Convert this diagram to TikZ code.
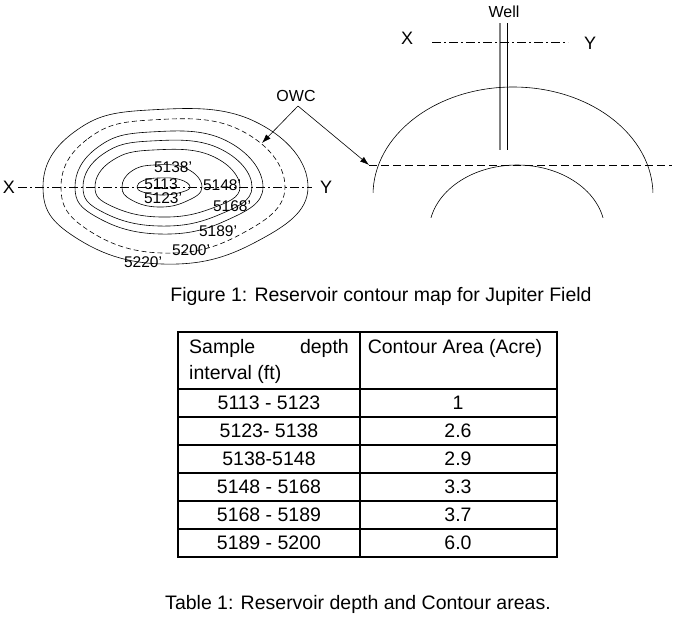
\documentclass[tikz,border=0pt]{standalone}
\usepackage{fontspec}
\setmainfont{Liberation Sans}
\usetikzlibrary{arrows.meta}
\newcommand{\myring}[5]{%
\pgfmathsetmacro{\w}{#2-#1}\pgfmathsetmacro{\a}{187-#3}\pgfmathsetmacro{\b}{#4-187}%
\draw[#5] plot[smooth cycle,tension=0.75] coordinates{(#1,187) (#1+.12*\w,187-.72*\a) (#1+.4*\w,#3) (#1+.8*\w,187-.85*\a) (#2,187) (#1+.8*\w,187+.72*\b) (#1+.45*\w,#4) (#1+.12*\w,187+.65*\b)};}
\begin{document}
\begin{tikzpicture}[x=1pt,y=-1pt,
 lab/.style={font=\fontsize{15.5}{16}\selectfont,inner sep=0pt},
 big/.style={font=\fontsize{18}{19}\selectfont,inner sep=0pt},
 captxt/.style={font=\fontsize{19.5}{21}\selectfont,inner sep=0pt},
 cell/.style={font=\fontsize{19.5}{21}\selectfont,inner sep=0pt},
 dd/.style={dash pattern=on 9pt off 3pt on 2pt off 3pt},
 thin line/.style={line width=0.6pt}]
\useasboundingbox (0,0) rectangle (678,619);
% contours
\myring{137}{190}{178}{195}{thin line}
\myring{122}{202}{165}{207}{thin line}
\myring{95}{240}{150}{217}{thin line}
\myring{83}{252}{141}{226}{thin line}
\myring{75}{263}{132}{234}{thin line}
\myring{61}{285}{120}{253}{thin line,dash pattern=on 5pt off 3pt}
\myring{43}{308}{110}{264}{thin line}
\coordinate (xl) at (18,187); \coordinate (yl) at (312,187);
\draw[thin line,dd] (xl) -- (yl);
\node[big] (X1) at (9,187) {X};
\node[big] (Y1) at (326,187) {Y};
\node[lab] (l38) at (173,167) {5138'};
\node[lab] (l13) at (161,184) {5113};
\node[lab] (l23) at (163,198) {5123'};
\node[lab] (l48) at (222,185) {5148'};
\node[lab] (l68) at (232,206) {5168'};
\node[lab] (l89) at (218,231) {5189'};
\node[lab] (l00) at (191,250) {5200'};
\node[lab] (l20) at (143,262) {5220'};
% OWC
\node[lab,font=\fontsize{16}{17}\selectfont] (owc) at (296,96) {OWC};
\coordinate (oc) at (298,106);
\coordinate (t1) at (262,143);
\coordinate (t2) at (369,165);
\draw[thin line,-{Latex[length=9pt,width=6pt]}] (oc) -- (t1);
\draw[thin line,-{Latex[length=9pt,width=6pt]}] (oc) -- (t2);
% right figure
\node[lab,font=\fontsize{16}{17}\selectfont] (well) at (504,12) {Well};
\coordinate (w1a) at (500,23); \coordinate (w1b) at (500,150);
\coordinate (w2a) at (507,23); \coordinate (w2b) at (507,150);
\draw[line width=1.3pt,gray] (w1a) -- (w1b);
\draw[thin line] (w2a) -- (w2b);
\coordinate (x2l) at (432,42); \coordinate (x2r) at (568,42);
\draw[thin line,dd] (x2l) -- (x2r);
\node[big] (X2) at (407,38) {X};
\node[big] (Y2) at (590,43) {Y};
\begin{scope}
\clip (360,80) rectangle (660,192);
\draw[thin line] (513,195) ellipse [x radius=140,y radius=108];
\end{scope}
\begin{scope}
\clip (430,160) rectangle (610,217);
\draw[thin line] (517,232) ellipse [x radius=88,y radius=67];
\end{scope}
\coordinate (o1) at (369,165); \coordinate (o2) at (672,165);
\draw[thin line,dash pattern=on 8pt off 4pt] (o1) -- (o2);
% caption
\node[captxt] (fig) at (381,296) {Figure 1: Reservoir contour map for Jupiter Field};
% table
\draw[line width=1.6pt] (178,332) rectangle (557,557);
\draw[line width=1.2pt] (360,332) -- (360,557);
\foreach \y in {389,417,445,473,501,529} \draw[line width=1.2pt] (178,\y) -- (557,\y);
\node[cell,anchor=west] (h1) at (189,348) {Sample};
\node[cell,anchor=east] (h1b) at (349,348) {depth};
\node[cell,anchor=west] (h2) at (189,374) {interval (ft)};
\node[cell] (h3) at (455,348) {Contour Area (Acre)};
\foreach \a/\b/\i in {5113 - 5123/1/0,5123- 5138/2.6/1,5138-5148/2.9/2,5148 - 5168/3.3/3,5168 - 5189/3.7/4,5189 - 5200/6.0/5}{
\node[cell] (r\i a) at (269,403+28*\i) {\a};
\node[cell] (r\i b) at (458,403+28*\i) {\b};}
\node[captxt] (tab) at (358,604) {Table 1: Reservoir depth and Contour areas.};
\end{tikzpicture}
\end{document}
